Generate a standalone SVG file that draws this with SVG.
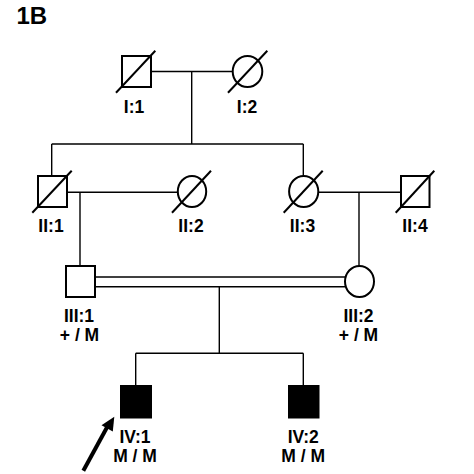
<svg xmlns="http://www.w3.org/2000/svg" width="474" height="474" viewBox="0 0 474 474">
<style>
.sym{fill:#fff;stroke:#000;stroke-width:2}
.aff{fill:#000;stroke:#000;stroke-width:2}
.dec{stroke:#000;stroke-width:2;fill:none}
.ln{stroke:#000;stroke-width:1.4;fill:none}
.lbl{font-family:"Liberation Sans",Arial,sans-serif;font-weight:bold;font-size:17.5px;text-anchor:middle;fill:#000}
.title{font-family:"Liberation Sans",Arial,sans-serif;font-weight:bold;font-size:24px;fill:#000}
</style>
<rect width="474" height="474" fill="#fff"/>
<text class="title" x="16.5" y="23.5">1B</text>
<g id="connectors">
<line class="ln" x1="151" y1="71.5" x2="233" y2="71.5"/>
<line class="ln" x1="191.7" y1="71.5" x2="191.7" y2="144"/>
<line class="ln" x1="51.7" y1="144" x2="303.3" y2="144"/>
<line class="ln" x1="51.7" y1="144" x2="51.7" y2="176"/>
<line class="ln" x1="303.3" y1="144" x2="303.3" y2="176"/>
<line class="ln" x1="67" y1="192.3" x2="178" y2="192.3"/>
<line class="ln" x1="80" y1="192.3" x2="80" y2="266"/>
<line class="ln" x1="318" y1="192.3" x2="401" y2="192.3"/>
<line class="ln" x1="359" y1="192.3" x2="359" y2="266"/>
<line class="ln" x1="95" y1="277" x2="345" y2="277"/>
<line class="ln" x1="95" y1="286.7" x2="345" y2="286.7"/>
<line class="ln" x1="219.3" y1="286.7" x2="219.3" y2="353.3"/>
<line class="ln" x1="135.7" y1="353.3" x2="303.3" y2="353.3"/>
<line class="ln" x1="135.7" y1="353.3" x2="135.7" y2="386"/>
<line class="ln" x1="303.3" y1="353.3" x2="303.3" y2="386"/>
</g>
<g id="I1">
<rect class="sym" x="122" y="56" width="29" height="31"/>
<line class="dec" x1="116" y1="92.7" x2="155.3" y2="50.7"/>
<text class="lbl" x="134" y="112.7">I:1</text>
</g>
<g id="I2">
<ellipse class="sym" cx="247.5" cy="71.5" rx="14.8" ry="15.6"/>
<line class="dec" x1="228" y1="92.7" x2="267.3" y2="50.7"/>
<text class="lbl" x="247" y="112.7">I:2</text>
</g>
<g id="II1">
<rect class="sym" x="38" y="176" width="29" height="31"/>
<line class="dec" x1="32.3" y1="212.7" x2="71.7" y2="170.7"/>
<text class="lbl" x="51" y="232.3">II:1</text>
</g>
<g id="II2">
<ellipse class="sym" cx="192" cy="191.5" rx="14.2" ry="15.6"/>
<line class="dec" x1="172" y1="212.7" x2="211" y2="170.7"/>
<text class="lbl" x="191" y="232.3">II:2</text>
</g>
<g id="II3">
<ellipse class="sym" cx="303.7" cy="191.5" rx="14.6" ry="15.6"/>
<line class="dec" x1="283.7" y1="212.7" x2="322.7" y2="170.7"/>
<text class="lbl" x="302.5" y="232.3">II:3</text>
</g>
<g id="II4">
<rect class="sym" x="401" y="176" width="28.5" height="31"/>
<line class="dec" x1="395.7" y1="212.7" x2="434.3" y2="170.7"/>
<text class="lbl" x="415" y="232.3">II:4</text>
</g>
<g id="III1">
<rect class="sym" x="66" y="266" width="29" height="31"/>
<text class="lbl" x="79" y="321.7">III:1</text>
<text class="lbl" x="79.5" y="341">+ / M</text>
</g>
<g id="III2">
<ellipse class="sym" cx="359.5" cy="281.5" rx="14.5" ry="15.6"/>
<text class="lbl" x="358.5" y="321.7">III:2</text>
<text class="lbl" x="358.5" y="341">+ / M</text>
</g>
<g id="IV1">
<rect class="aff" x="121" y="386" width="30" height="31.5"/>
<text class="lbl" x="135" y="442.7">IV:1</text>
<text class="lbl" x="135" y="461.7">M / M</text>
</g>
<g id="IV2">
<rect class="aff" x="289" y="386" width="29.5" height="31.5"/>
<text class="lbl" x="303.2" y="442.7">IV:2</text>
<text class="lbl" x="303.2" y="461.7">M / M</text>
</g>
<g id="proband-arrow">
<line x1="83.3" y1="470.7" x2="108" y2="425.5" stroke="#000" stroke-width="4"/>
<path d="M114.3,416.7 L112.8,431.5 L101.5,425.3 z" fill="#000"/>
</g>
</svg>
